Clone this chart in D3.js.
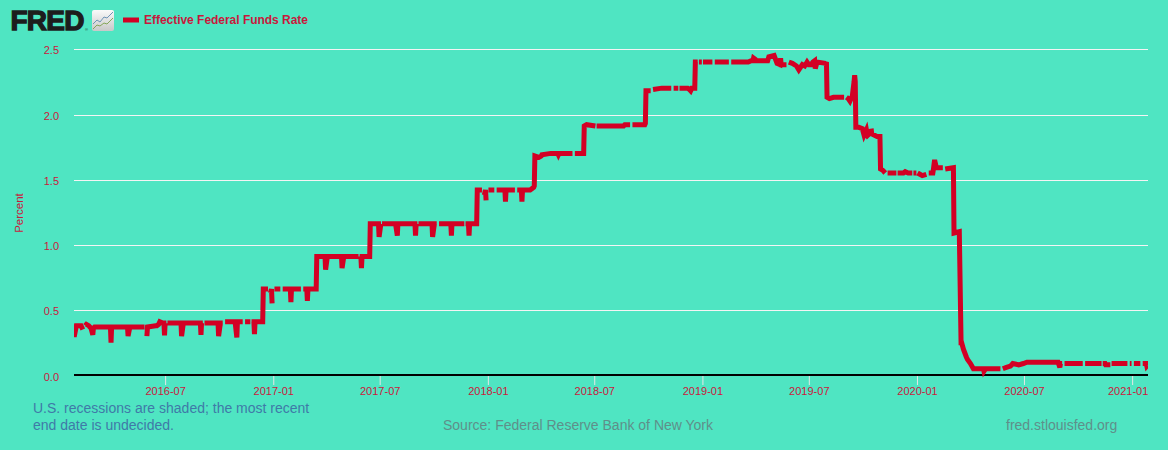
<!DOCTYPE html>
<html>
<head>
<meta charset="utf-8">
<script src="https://cdn.jsdelivr.net/npm/d3@7"></script>
<style>
html,body{margin:0;padding:0;background:#4fe5c2;overflow:hidden}
svg{display:block;font-family:"Liberation Sans",Arial,sans-serif}
</style>
</head>
<body>
<svg id="chart" width="1168" height="450"></svg>
<script>
const seriesName = "Effective Federal Funds Rate";
const yTicks = [0, 0.5, 1, 1.5, 2, 2.5];
const xTicks = ["2016-07-01","2017-01-01","2017-07-01","2018-01-01","2018-07-01","2019-01-01","2019-07-01","2020-01-01","2020-07-01","2021-01-01"];
const xDomain = ["2016-01-28","2021-01-28"];
const yDomain = [0, 2.5];

const rate2016 = [
["2016-01-28",.31],["2016-01-29",.31],["2016-02-01",.38],["2016-02-09",.38],["2016-02-10",.37],["2016-02-12",.35],["2016-02-15",null],
["2016-02-16",.38],["2016-02-18",.39],["2016-02-22",.38],["2016-02-24",.37],["2016-02-26",.36],["2016-02-29",.31],["2016-03-01",.36],["2016-03-03",.37],
["2016-03-30",.37],["2016-03-31",.25],["2016-04-01",.37],["2016-04-28",.37],["2016-04-29",.30],["2016-05-02",.37],["2016-05-27",.37],["2016-05-30",null],
["2016-05-31",.30],["2016-06-01",.37],["2016-06-15",.38],["2016-06-17",.38],["2016-06-20",.39],["2016-06-22",.41],["2016-06-27",.40],["2016-06-29",.40],["2016-06-30",.305],
["2016-07-01",.40],["2016-07-04",null],["2016-07-05",.40],["2016-07-28",.40],["2016-07-29",.30],["2016-08-01",.40],["2016-08-30",.40],["2016-08-31",.31],
["2016-09-01",.40],["2016-09-02",.40],["2016-09-05",null],["2016-09-06",.40],["2016-09-29",.40],["2016-09-30",.30],["2016-10-03",.40],["2016-10-07",.40],["2016-10-10",null],
["2016-10-11",.41],["2016-10-28",.41],["2016-10-31",.29],["2016-11-01",.41],["2016-11-10",.41],["2016-11-11",null],["2016-11-14",.41],["2016-11-23",.41],["2016-11-24",null],
["2016-11-25",.41],["2016-11-29",.41],["2016-11-30",.315],["2016-12-01",.41],["2016-12-14",.41],["2016-12-15",.66],["2016-12-23",.66],["2016-12-26",null],
["2016-12-27",.63],["2016-12-29",.66],["2016-12-30",.55]];

const rate2017 = [
["2017-01-02",null],["2017-01-03",.66],["2017-01-13",.66],["2017-01-16",null],["2017-01-17",.66],["2017-01-30",.66],["2017-01-31",.56],["2017-02-01",.66],["2017-02-17",.66],["2017-02-20",null],
["2017-02-21",.66],["2017-02-27",.66],["2017-02-28",.57],["2017-03-01",.66],["2017-03-15",.66],["2017-03-16",.91],["2017-03-30",.91],["2017-03-31",.81],["2017-04-03",.91],
["2017-04-27",.91],["2017-04-28",.82],["2017-05-01",.91],["2017-05-26",.91],["2017-05-29",null],["2017-05-30",.91],["2017-05-31",.82],["2017-06-01",.91],["2017-06-14",.91],
["2017-06-15",1.16],["2017-06-29",1.16],["2017-06-30",1.06],["2017-07-03",1.16],["2017-07-04",null],["2017-07-05",1.16],["2017-07-28",1.16],["2017-07-31",1.07],["2017-08-01",1.16],
["2017-08-30",1.16],["2017-08-31",1.07],["2017-09-01",1.16],["2017-09-04",null],["2017-09-05",1.16],["2017-09-28",1.16],["2017-09-29",1.06],["2017-10-02",1.16],["2017-10-06",1.16],["2017-10-09",null],
["2017-10-10",1.16],["2017-10-30",1.16],["2017-10-31",1.07],["2017-11-01",1.16],["2017-11-22",1.16],["2017-11-23",null],["2017-11-24",1.16],["2017-11-29",1.16],["2017-11-30",1.07],
["2017-12-01",1.16],["2017-12-13",1.16],["2017-12-14",1.42],["2017-12-22",1.42],["2017-12-25",null],["2017-12-26",1.38],["2017-12-28",1.42],["2017-12-29",1.34]];

const rate2018 = [
["2018-01-01",null],["2018-01-02",1.42],["2018-01-12",1.42],["2018-01-15",null],["2018-01-16",1.42],["2018-01-30",1.42],["2018-01-31",1.33],["2018-02-01",1.42],["2018-02-16",1.42],["2018-02-19",null],
["2018-02-20",1.42],["2018-02-27",1.42],["2018-02-28",1.33],["2018-03-01",1.42],["2018-03-14",1.42],["2018-03-20",1.44],["2018-03-21",1.45],["2018-03-22",1.68],["2018-03-29",1.67],["2018-04-02",1.68],["2018-04-03",1.69],
["2018-04-18",1.70],["2018-04-30",1.70],["2018-05-01",1.69],["2018-05-02",1.70],["2018-05-25",1.70],["2018-05-28",null],["2018-05-29",1.70],["2018-06-13",1.70],["2018-06-14",1.91],["2018-06-18",1.92],["2018-07-03",1.91],["2018-07-04",null],
["2018-07-05",1.91],["2018-08-20",1.91],["2018-08-22",1.92],["2018-08-31",1.92],["2018-09-03",null],["2018-09-04",1.92],["2018-09-25",1.92],["2018-09-26",1.93],["2018-09-27",2.18],["2018-10-05",2.18],["2018-10-08",null],
["2018-10-09",2.19],["2018-10-24",2.20],["2018-11-09",2.20],["2018-11-12",null],["2018-11-13",2.20],["2018-11-21",2.20],["2018-11-22",null],["2018-11-23",2.20],["2018-12-07",2.20],["2018-12-10",2.19],["2018-12-12",2.18],
["2018-12-14",2.20],["2018-12-19",2.20],["2018-12-20",2.40],["2018-12-24",2.40],["2018-12-25",null],["2018-12-26",2.40],["2018-12-31",2.40]];

const rate2019 = [
["2019-01-01",null],["2019-01-02",2.40],["2019-01-18",2.40],["2019-01-21",null],["2019-01-22",2.40],["2019-02-15",2.40],["2019-02-18",null],["2019-02-19",2.40],["2019-03-20",2.40],["2019-03-25",2.41],["2019-03-28",2.41],["2019-03-29",2.43],
["2019-04-01",2.42],["2019-04-02",2.41],["2019-04-22",2.41],["2019-04-24",2.44],["2019-05-03",2.45],["2019-05-08",2.39],["2019-05-13",2.38],["2019-05-14",2.43],["2019-05-15",2.38],["2019-05-24",2.38],["2019-05-27",null],
["2019-05-28",2.40],["2019-06-03",2.39],["2019-06-10",2.37],["2019-06-14",2.34],["2019-06-20",2.38],["2019-06-24",2.37],["2019-06-28",2.40],["2019-07-01",2.38],["2019-07-03",2.38],
["2019-07-05",2.38],["2019-07-08",2.40],["2019-07-11",2.41],["2019-07-12",2.35],["2019-07-15",2.40],["2019-07-30",2.39],["2019-07-31",2.40],["2019-08-01",2.13],["2019-08-05",2.12],["2019-08-12",2.13],["2019-08-30",2.13],["2019-09-02",null],
["2019-09-03",2.13],["2019-09-06",2.12],["2019-09-09",2.10],["2019-09-12",2.13],["2019-09-13",2.14],["2019-09-16",2.25],["2019-09-17",2.30],["2019-09-18",2.25],["2019-09-19",1.90],["2019-09-24",1.90],["2019-09-30",1.89],
["2019-10-03",1.84],["2019-10-07",1.88],["2019-10-09",1.83],["2019-10-11",1.82],["2019-10-14",null],["2019-10-15",1.89],["2019-10-16",1.85],["2019-10-25",1.83],["2019-10-30",1.83],["2019-10-31",1.58],
["2019-11-04",1.57],["2019-11-08",1.55],["2019-11-11",null],["2019-11-12",1.55],["2019-11-27",1.55],["2019-11-28",null],["2019-11-29",1.55],["2019-12-09",1.55],["2019-12-12",1.56],["2019-12-17",1.55],["2019-12-24",1.55],["2019-12-25",null],
["2019-12-26",1.55],["2019-12-31",1.55]];

const rate2020 = [
["2020-01-01",null],["2020-01-02",1.55],["2020-01-06",1.54],["2020-01-10",1.53],["2020-01-17",1.54],["2020-01-20",null],["2020-01-21",1.55],["2020-01-28",1.55],["2020-01-29",1.58],["2020-01-31",1.65],["2020-02-03",1.59],["2020-02-14",1.59],["2020-02-17",null],
["2020-02-18",1.58],["2020-03-03",1.59],["2020-03-04",1.09],["2020-03-13",1.10],["2020-03-16",.25],["2020-03-17",.25],["2020-03-20",.20],["2020-03-25",.14],["2020-03-27",.12],["2020-04-01",.09],["2020-04-06",.05],["2020-04-23",.05],["2020-04-24",.03],["2020-04-27",.05],
["2020-05-22",.05],["2020-05-25",null],["2020-05-26",.05],["2020-06-01",.06],["2020-06-08",.07],["2020-06-12",.09],["2020-06-22",.08],["2020-06-30",.09],["2020-07-06",.10],["2020-07-22",.10],["2020-08-28",.10],["2020-08-31",.06],
["2020-09-01",.09],["2020-09-04",.09],["2020-09-07",null],["2020-09-08",.09],["2020-10-09",.09],["2020-10-12",null],["2020-10-13",.09],["2020-11-10",.09],["2020-11-11",null],["2020-11-12",.09],["2020-11-16",.09],["2020-11-17",.08],["2020-11-25",.08],["2020-11-26",null],
["2020-11-27",.09],["2020-12-24",.09],["2020-12-25",null],["2020-12-28",.09],["2020-12-31",.09]];

const rate2021 = [
["2021-01-01",null],["2021-01-04",.09],["2021-01-15",.09],["2021-01-18",null],["2021-01-19",.09],["2021-01-25",.09],["2021-01-26",.07],["2021-01-28",.08]];

const parse = d3.utcParse("%Y-%m-%d");
const rows = [...rate2016, ...rate2017, ...rate2018, ...rate2019, ...rate2020, ...rate2021]
  .map(([d, v]) => ({date: parse(d), value: v}));

const RED = "#d30024", LABEL = "#c9183c";
const svg = d3.select("#chart");
const plotLeft = 74, plotRight = 1148, plotTop = 49, plotBottom = 375.25;
const xScale = d3.scaleUtc().domain(xDomain.map(parse)).range([plotLeft, plotRight]);
const yScale = d3.scaleLinear().domain(yDomain).range([plotBottom, plotTop]);

// grid + y axis
const yAxis = svg.append("g").attr("transform", `translate(${plotLeft},0)`)
  .call(d3.axisLeft(yScale).tickValues(yTicks).tickFormat(d3.format(".1f")).tickSize(-(plotRight - plotLeft)).tickPadding(15));
yAxis.select(".domain").remove();
yAxis.selectAll(".tick").attr("transform", d => `translate(0,${Math.ceil(yScale(d)) + 0.5})`);
yAxis.selectAll(".tick line").attr("stroke", "#f4f4f4").attr("stroke-width", 1).attr("display", d => d === 0 ? "none" : null);
yAxis.selectAll(".tick text").attr("fill", LABEL).attr("font-size", 11).attr("font-family", "Liberation Sans").attr("dy", "0.42em");

// x axis
const axisY = 375;
const xAxis = svg.append("g").attr("transform", `translate(0,${axisY})`)
  .call(d3.axisBottom(xScale).tickValues(xTicks.map(parse)).tickFormat(d3.utcFormat("%Y-%m")).tickSize(10).tickPadding(2));
xAxis.select(".domain").remove();
xAxis.selectAll(".tick line").attr("stroke", "#e6e6e6");
xAxis.selectAll(".tick text").attr("fill", LABEL).attr("font-size", 11).attr("font-family", "Liberation Sans")
  .attr("dx", (d, i) => i === xTicks.length - 1 ? -4.5 : 0);
svg.append("line").attr("x1", plotLeft).attr("x2", plotRight).attr("y1", axisY).attr("y2", axisY)
  .attr("stroke", "#000").attr("stroke-width", 2);

// series
svg.append("clipPath").attr("id", "plot").append("rect")
  .attr("x", plotLeft).attr("y", 0).attr("width", plotRight - plotLeft).attr("height", 450);
const line = d3.line().defined(d => d.value !== null).x(d => xScale(d.date)).y(d => yScale(d.value));
svg.append("path").datum(rows).attr("d", line).attr("clip-path", "url(#plot)")
  .attr("fill", "none").attr("stroke", RED).attr("stroke-width", 5)
  .attr("stroke-linejoin", "miter").attr("stroke-miterlimit", 4).attr("stroke-linecap", "butt");

// y title
svg.append("text").attr("transform", "translate(23,213) rotate(-90)").attr("text-anchor", "middle")
  .attr("fill", LABEL).attr("font-size", 11.5).text("Percent");

// FRED logo
svg.append("text").attr("x", 10.5).attr("y", 30).attr("font-size", 28).attr("font-weight", 700)
  .attr("fill", "#1d1d1d").attr("stroke", "#1d1d1d").attr("stroke-width", 1.3).attr("textLength", 74).text("FRED");
svg.append("text").attr("x", 85).attr("y", 31).attr("font-size", 4).attr("fill", "#1d1d1d").text("®");
const grad = svg.append("linearGradient").attr("id", "ico").attr("x1", 0).attr("x2", 0).attr("y1", 0).attr("y2", 1);
grad.append("stop").attr("offset", 0).attr("stop-color", "#fafafa");
grad.append("stop").attr("offset", 1).attr("stop-color", "#c8c8c8");
svg.append("rect").attr("x", 92).attr("y", 10).attr("width", 22).attr("height", 21).attr("rx", 2).attr("fill", "url(#ico)");
svg.append("polyline").attr("points", "93,24 97,20 100,22 104,17 107,18 113,12").attr("fill", "none").attr("stroke", "#6f93b5").attr("stroke-width", 1);
svg.append("polyline").attr("points", "93,29 97,25 100,26 104,23 107,24 113,18").attr("fill", "none").attr("stroke", "#86a65a").attr("stroke-width", 1);

// legend
svg.append("line").attr("x1", 123).attr("x2", 139).attr("y1", 20).attr("y2", 20).attr("stroke", RED).attr("stroke-width", 5);
svg.append("text").attr("x", 144).attr("y", 24).attr("font-size", 12).attr("font-weight", 700).attr("fill", LABEL)
  .attr("textLength", 164).text(seriesName);

// footer
const foot = svg.append("g").attr("font-size", 14);
foot.append("text").attr("x", 33).attr("y", 413).attr("fill", "#3f7aa8").text("U.S. recessions are shaded; the most recent");
foot.append("text").attr("x", 33).attr("y", 430).attr("fill", "#3f7aa8").text("end date is undecided.");
foot.append("text").attr("x", 443).attr("y", 430).attr("fill", "#5f8f8a").text("Source: Federal Reserve Bank of New York");
foot.append("text").attr("x", 1006).attr("y", 430).attr("fill", "#5f8f8a").text("fred.stlouisfed.org");
</script>
</body>
</html>
